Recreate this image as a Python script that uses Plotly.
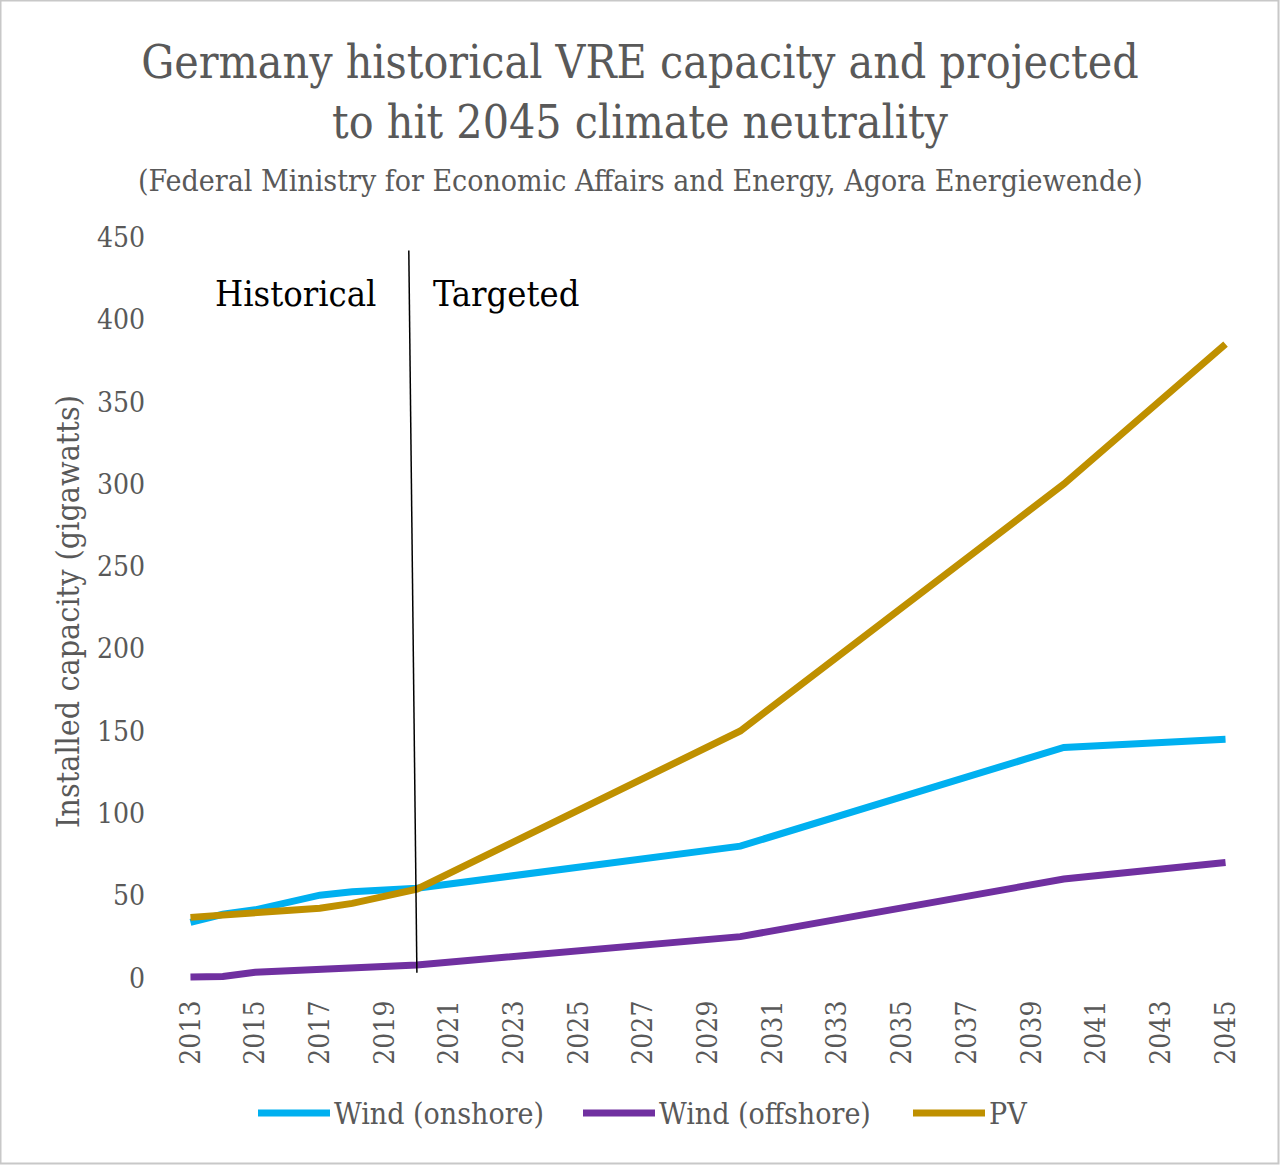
import plotly.graph_objects as go

years = [2013, 2014, 2015, 2016, 2017, 2018, 2019, 2020, 2030, 2040, 2045]
wind_onshore = [33.7, 38.6, 41.3, 45.3, 50.2, 52.3, 53.2, 54.4, 80, 140, 145]
wind_offshore = [0.5, 0.8, 3.3, 4.2, 5.4, 6.4, 7.5, 7.8, 25, 60, 70]
pv = [36.7, 37.9, 39.2, 40.7, 42.3, 45.2, 49.0, 53.8, 150, 300, 385]

series_names = ["Wind (onshore)", "Wind (offshore)", "PV"]
series_colors = ["#00B0F0", "#7030A0", "#BF9000"]
x_ticks = list(range(2013, 2046, 2))
y_ticks = list(range(0, 451, 50))

FONT = "DejaVu Serif Condensed, Liberation Serif, serif"
GRAY = "#595959"

W_FIG, H_FIG = 1280, 1165
L, R, T, B = 184, 1232, 229, 986
PW, PH = R - L, B - T


def px(xp):
    return (xp - L) / PW


def py(yp):
    return (B - yp) / PH


fig = go.Figure()
for name, vals, col in zip(series_names, [wind_onshore, wind_offshore, pv], series_colors):
    fig.add_trace(go.Scatter(x=years, y=vals, mode="lines", name=name,
                             line=dict(color=col, width=7), cliponaxis=False,
                             showlegend=False))

fig.update_layout(
    width=W_FIG, height=H_FIG,
    margin=dict(l=L, r=W_FIG - R, t=T, b=H_FIG - B, autoexpand=False),
    paper_bgcolor="white", plot_bgcolor="white",
    font=dict(family=FONT, color=GRAY),
    title=dict(text="Germany historical VRE capacity and projected<br>to hit 2045 climate neutrality",
               x=0.5, xanchor="center", yref="container", y=1 - 78 / H_FIG, yanchor="middle",
               font=dict(family=FONT, size=46, color=GRAY)),
    xaxis=dict(range=[2012.8, 2045.2], tickvals=x_ticks, ticktext=[str(v) for v in x_ticks],
               tickangle=-90, showgrid=False, zeroline=False, showline=False,
               ticks="", ticklabelstandoff=8,
               tickfont=dict(family=FONT, size=28, color=GRAY)),
    yaxis=dict(range=[-5, 455], tickvals=y_ticks, showgrid=False, zeroline=False,
               showline=False, ticks="", ticklabelstandoff=38,
               tickfont=dict(family=FONT, size=28, color=GRAY)),
    showlegend=False,
)

annotations = [
    dict(text="(Federal Ministry for Economic Affairs and Energy, Agora Energiewende)",
         xref="paper", yref="paper", x=px(640), y=py(180), xanchor="center", yanchor="middle",
         showarrow=False, font=dict(family=FONT, size=30, color=GRAY)),
    dict(text="Installed capacity (gigawatts)", textangle=-90,
         xref="paper", yref="paper", x=px(68), y=py(612), xanchor="center", yanchor="middle",
         showarrow=False, font=dict(family=FONT, size=32, color=GRAY)),
    dict(text="Historical", xref="x", yref="y", x=2018.8, y=416, xanchor="right", yanchor="middle",
         showarrow=False, font=dict(family=FONT, size=36, color="black")),
    dict(text="Targeted", xref="x", yref="y", x=2020.45, y=416, xanchor="left", yanchor="middle",
         showarrow=False, font=dict(family=FONT, size=36, color="black")),
]

shapes = [
    dict(type="line", xref="x", yref="y", x0=2019.75, y0=442, x1=2020, y1=3,
         line=dict(color="black", width=1.5)),
    dict(type="rect", xref="paper", yref="paper", x0=px(0.5), x1=px(W_FIG - 1.5),
         y0=py(H_FIG - 1.5), y1=py(0.5), line=dict(color="#c8c8c8", width=2), layer="below"),
]

# custom legend
leg_y = py(1113)
leg_starts = [258, 583, 913]
for name, col, x0 in zip(series_names, series_colors, leg_starts):
    shapes.append(dict(type="line", xref="paper", yref="paper", x0=px(x0), x1=px(x0 + 72),
                       y0=leg_y, y1=leg_y, line=dict(color=col, width=7)))
    annotations.append(dict(text=name, xref="paper", yref="paper", x=px(x0 + 74), y=leg_y,
                            xanchor="left", yanchor="middle", showarrow=False,
                            font=dict(family=FONT, size=30, color=GRAY)))

fig.update_layout(annotations=annotations, shapes=shapes)
fig.write_html("out.html")
